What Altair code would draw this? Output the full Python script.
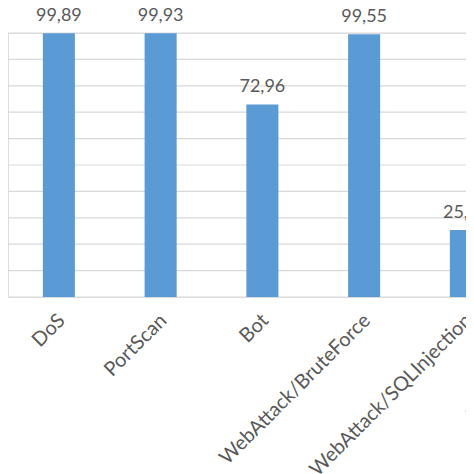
import altair as alt
import pandas as pd

# categories shown (the last one is only partially visible at the right edge)
categories = ["DoS", "PortScan", "Bot", "WebAttack/BruteForce", "WebAttack/SQLInjection", "WebAttack/XSS"]
bar_categories = ["DoS", "PortScan", "Bot", "WebAttack/BruteForce", "WebAttack/SQLInjection"]
values = [99.89, 99.93, 72.96, 99.55, 25.41]
labels = ["99,89", "99,93", "72,96", "99,55", "25,41"]
y_ticks = [0, 10, 20, 30, 40, 50, 60, 70, 80, 90, 100]

df = pd.DataFrame({"cat": bar_categories, "val": values, "lab": labels})
grid_df = pd.DataFrame({"t": y_ticks})

FONT = "Lato"
TXT = "#595959"
BAR = "#5B9BD5"
GRID = "#D9D9D9"

x_enc = alt.X(
    "cat:N",
    sort=categories,
    scale=alt.Scale(domain=categories, range=[0, 610.5], paddingInner=0.685, paddingOuter=0.3425),
    axis=alt.Axis(
        title=None,
        labelAngle=315,
        labelAlign="right",
        labelBaseline="middle",
        labelPadding=20,
        labelOffset=3,
        labelFont=FONT,
        labelFontSize=20,
        labelColor=TXT,
        labelLimit=0,
        ticks=False,
        domain=False,
        grid=False,
        labelOverlap=False,
    ),
)
y_scale = alt.Scale(domain=[0, 100], nice=False, zero=True)
y_enc = alt.Y("val:Q", scale=y_scale, axis=None)

grid = alt.Chart(grid_df).mark_rule(color=GRID, strokeWidth=1.2).encode(
    y=alt.Y("t:Q", scale=y_scale, axis=None)
)
bars = alt.Chart(df).mark_bar(color=BAR, clip=True).encode(x=x_enc, y=y_enc)
texts = alt.Chart(df).mark_text(
    font=FONT, fontSize=18, color=TXT, baseline="alphabetic", dy=-12
).encode(x=x_enc, y=y_enc, text="lab:N")

chart = (
    alt.layer(grid, bars, texts)
    .properties(
        width=458,
        height=264,
        autosize=alt.AutoSizeParams(type="none"),
        padding={"left": 0, "top": 25, "right": 0, "bottom": 177},
    )
    .configure_view(stroke=None)
    .configure(background="white")
)

chart.save("out.html", embed_options={"renderer": "svg", "actions": False})
